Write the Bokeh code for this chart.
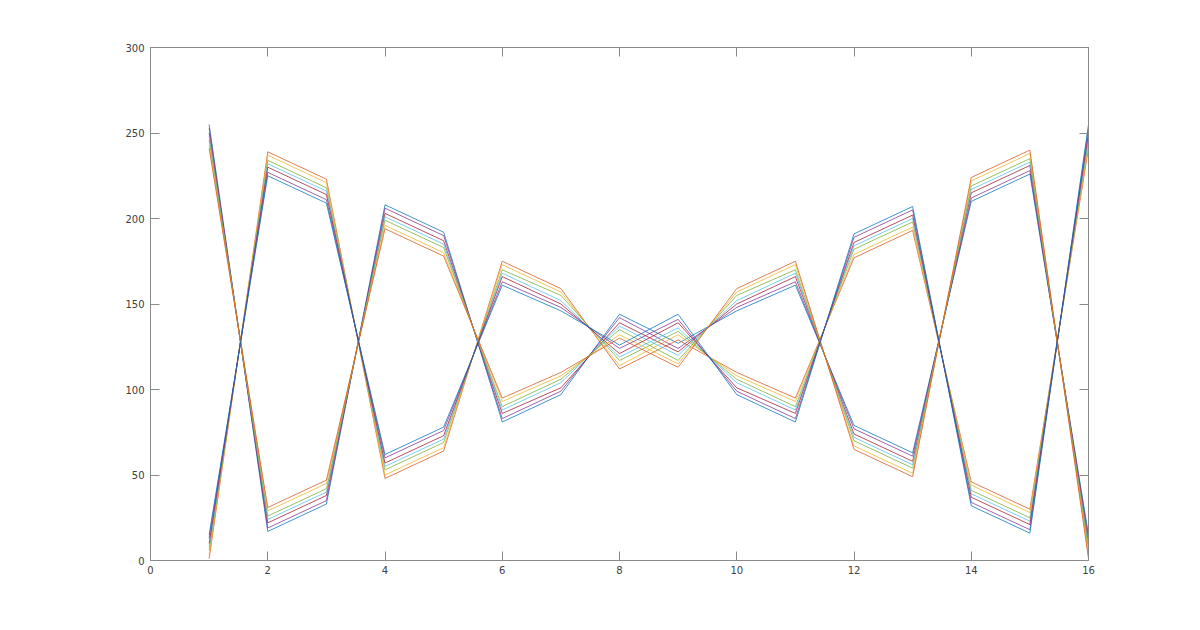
from bokeh.plotting import figure
from bokeh.models import Range1d, LinearAxis, FixedTicker, CustomJSTickFormatter
from bokeh.embed import file_html
from bokeh.resources import INLINE

x = list(range(1, 17))

# group starting high at x=1
a_blue      = [255, 17, 33, 208, 192, 81, 97, 144, 127, 146, 161, 79, 63, 210, 226, 15]
a_purple    = [253, 19, 35, 206, 190, 83, 99, 142, 124, 148, 163, 77, 61, 212, 228, 13]
a_darkred   = [250, 22, 38, 203, 187, 86, 101, 139, 122, 150, 166, 74, 58, 215, 231, 10]
a_lightblue = [248, 24, 40, 201, 185, 88, 104, 137, 120, 152, 168, 72, 56, 217, 233, 8]
a_green     = [246, 26, 42, 199, 183, 90, 106, 135, 117, 155, 170, 70, 54, 219, 235, 6]
a_yellow    = [243, 29, 45, 196, 180, 93, 108, 132, 115, 157, 173, 67, 51, 222, 238, 3]
a_orange    = [241, 31, 47, 194, 178, 95, 110, 130, 113, 159, 175, 65, 49, 224, 240, 1]

# group starting low at x=1
b_orange    = [1, 239, 223, 48, 64, 175, 159, 112, 129, 110, 95, 177, 193, 46, 30, 241]
b_yellow    = [3, 237, 221, 50, 66, 173, 157, 114, 132, 108, 93, 179, 195, 44, 28, 243]
b_green     = [6, 234, 218, 53, 69, 170, 155, 117, 134, 106, 90, 182, 198, 41, 25, 246]
b_lightblue = [8, 232, 216, 55, 71, 168, 152, 119, 136, 104, 88, 184, 200, 39, 23, 248]
b_darkred   = [10, 230, 214, 57, 73, 166, 150, 121, 139, 101, 86, 186, 202, 37, 21, 250]
b_purple    = [13, 227, 211, 60, 76, 163, 148, 124, 141, 99, 83, 189, 205, 34, 18, 253]
b_blue      = [15, 225, 209, 62, 78, 161, 146, 126, 144, 97, 81, 191, 207, 32, 16, 255]

x_ticks = [0, 2, 4, 6, 8, 10, 12, 14, 16]
y_ticks = [0, 50, 100, 150, 200, 250, 300]

C = {
    "blue": "#0072BD", "orange": "#D95319", "yellow": "#EDB120",
    "purple": "#7E2F8E", "green": "#77AC30", "lightblue": "#4DBEEE",
    "darkred": "#A2142F",
}

series = [
    (a_blue, "blue"), (b_orange, "orange"), (a_purple, "purple"), (b_yellow, "yellow"),
    (a_darkred, "darkred"), (b_green, "green"), (a_lightblue, "lightblue"),
    (b_lightblue, "lightblue"), (a_green, "green"), (b_darkred, "darkred"),
    (a_yellow, "yellow"), (b_purple, "purple"), (a_orange, "orange"), (b_blue, "blue"),
]

p = figure(width=1184, height=614, output_backend="svg", toolbar_location=None,
           x_range=Range1d(0, 16), y_range=Range1d(0, 300),
           min_border_left=150, min_border_right=96, min_border_top=47, min_border_bottom=54)
p.grid.visible = False
p.outline_line_color = "#8a8a8a"
p.background_fill_color = "white"
p.border_fill_color = "white"

for ys, c in series:
    p.line(x, ys, line_color=C[c], line_width=1, line_alpha=0.75)

AX = "#8a8a8a"
def style(ax, ticks, labels=True):
    ax.ticker = FixedTicker(ticks=ticks)
    ax.minor_tick_line_color = None
    ax.major_tick_in = 9
    ax.major_tick_out = 0
    ax.axis_line_color = AX
    ax.major_tick_line_color = AX
    ax.major_label_text_font = "DejaVu Sans"
    ax.major_label_text_font_size = "10px"
    ax.major_label_text_color = "#404040"
    if not labels:
        ax.formatter = CustomJSTickFormatter(code="return '';")

style(p.xaxis[0], x_ticks)
p.xaxis[0].major_label_standoff = 5
style(p.yaxis[0], y_ticks)
p.yaxis[0].major_label_standoff = 6

top = LinearAxis()
style(top, x_ticks, labels=False)
p.add_layout(top, "above")
right = LinearAxis()
style(right, y_ticks, labels=False)
p.add_layout(right, "right")

open("out.html", "w").write(file_html(p, INLINE))
